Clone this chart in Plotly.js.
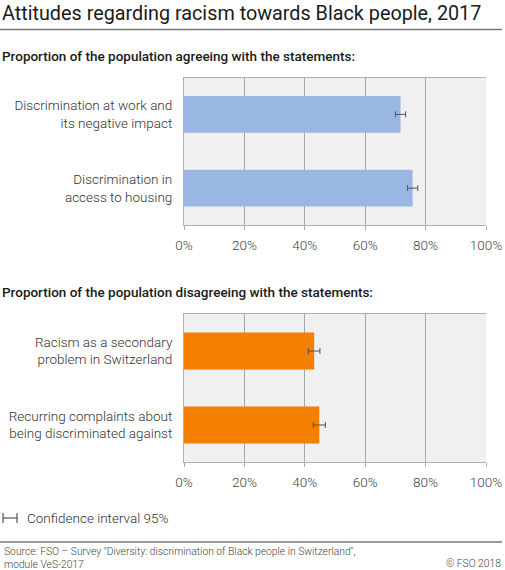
<!DOCTYPE html>
<html>
<head>
<meta charset="utf-8">
<script src="https://cdn.plot.ly/plotly-3.0.1.min.js"></script>
<style>
  html, body { margin: 0; padding: 0; background: #fff; }
  #chart { width: 505px; height: 570px; }
</style>
</head>
<body>
<div id="chart"></div>
<script>
// values
var agreeCats = ['Discrimination at work and<br>its negative impact', 'Discrimination in<br>access to housing'];
var agreeVals = [71.7, 75.7];
var agreeErr = [1.7, 1.7];

var disagreeCats = ['Racism as a secondary<br>problem in Switzerland', 'Recurring complaints about<br>being discriminated against'];
var disagreeVals = [43.1, 44.8];
var disagreeErr = [1.9, 2.0];

var tickVals = [0, 20, 40, 60, 80, 100];
var tickText = ['0%', '20%', '40%', '60%', '80%', '100%'];

var W = 505, H = 570;
function px(x) { return x / W; }
function py(y) { return 1 - y / H; }

var FONT = 'Roboto, "Noto Sans", sans-serif';

var data = [
  {
    type: 'bar', orientation: 'h',
    y: agreeCats, x: agreeVals,
    xaxis: 'x', yaxis: 'y',
    marker: { color: '#9ab7e4' },
    error_x: { type: 'data', array: agreeErr, color: '#555', thickness: 1, width: 3 },
    width: 0.5, hoverinfo: 'x'
  },
  {
    type: 'bar', orientation: 'h',
    y: disagreeCats, x: disagreeVals,
    xaxis: 'x2', yaxis: 'y2',
    marker: { color: '#f47f00' },
    error_x: { type: 'data', array: disagreeErr, color: '#555', thickness: 1, width: 3 },
    width: 0.5, hoverinfo: 'x'
  }
];

function xAx(anchor) {
  return {
    domain: [px(184), px(486)],
    anchor: anchor,
    range: [0, 100],
    tickvals: tickVals, ticktext: tickText,
    showgrid: true, gridcolor: '#a8a8a8', gridwidth: 1,
    zeroline: false,
    showline: true, linecolor: '#b0b0b0', linewidth: 1, mirror: true,
    ticks: 'outside', ticklen: 4, tickcolor: '#b0b0b0',
    ticklabelstandoff: 4,
    tickfont: { family: FONT, size: 13.5, color: '#444', weight: 300 },
    fixedrange: true
  };
}
function yAx(anchor, dom) {
  return {
    domain: dom,
    anchor: anchor,
    autorange: 'reversed',
    showgrid: false, zeroline: false,
    showline: true, linecolor: '#b0b0b0', linewidth: 1,
    ticks: '',
    ticklabelstandoff: 8,
    tickfont: { family: FONT, size: 13.5, color: '#333', weight: 300 },
    fixedrange: true
  };
}

var layout = {
  width: W, height: H,
  margin: { l: 0, r: 0, t: 0, b: 0 },
  paper_bgcolor: '#fff', plot_bgcolor: '#f0f0f0',
  showlegend: false,
  xaxis: xAx('y'),
  yaxis: yAx('x', [py(225), py(77.5)]),
  xaxis2: xAx('y2'),
  yaxis2: yAx('x2', [py(462), py(314)]),
  shapes: [
    { type: 'line', xref: 'paper', yref: 'paper', x0: 0, x1: px(502), y0: py(29.5), y1: py(29.5), line: { color: '#777', width: 1.5 } },
    // legend symbol for the confidence interval
    { type: 'line', xref: 'paper', yref: 'paper', x0: px(3), x1: px(17), y0: py(518), y1: py(518), line: { color: '#333', width: 1 } },
    { type: 'line', xref: 'paper', yref: 'paper', x0: px(3), x1: px(3), y0: py(513), y1: py(523), line: { color: '#333', width: 1 } },
    { type: 'line', xref: 'paper', yref: 'paper', x0: px(17), x1: px(17), y0: py(513), y1: py(523), line: { color: '#333', width: 1 } },
    { type: 'line', xref: 'paper', yref: 'paper', x0: 0, x1: px(502), y0: py(542), y1: py(542), line: { color: '#333', width: 1 } }
  ],
  annotations: [
    { text: 'Attitudes regarding racism towards Black people, 2017', xref: 'paper', yref: 'paper',
      x: 0, y: py(14), xanchor: 'left', yanchor: 'middle', showarrow: false,
      font: { family: FONT, size: 19.8, color: '#1a1a1a' } },
    { text: 'Proportion of the population agreeing with the statements:', xref: 'paper', yref: 'paper',
      x: 0, y: py(56), xanchor: 'left', yanchor: 'middle', showarrow: false,
      font: { family: FONT, size: 13.5, color: '#1a1a1a', weight: 500 } },
    { text: 'Proportion of the population disagreeing with the statements:', xref: 'paper', yref: 'paper',
      x: 0, y: py(292), xanchor: 'left', yanchor: 'middle', showarrow: false,
      font: { family: FONT, size: 13.5, color: '#1a1a1a', weight: 500 } },
    { text: 'Confidence interval 95%', xref: 'paper', yref: 'paper',
      x: px(25), y: py(518), xanchor: 'left', yanchor: 'middle', showarrow: false,
      font: { family: FONT, size: 13.5, color: '#333', weight: 300 } },
    { text: 'Source: FSO \u2013 Survey "Diversity: discrimination of Black people in Switzerland",<br>module VeS-2017',
      xref: 'paper', yref: 'paper', align: 'left',
      x: px(2), y: py(557.5), xanchor: 'left', yanchor: 'middle', showarrow: false,
      font: { family: FONT, size: 10.3, color: '#444', weight: 300 } },
    { text: '\u00a9 FSO 2018', xref: 'paper', yref: 'paper',
      x: px(503), y: py(563), xanchor: 'right', yanchor: 'middle', showarrow: false,
      font: { family: FONT, size: 10.3, color: '#444', weight: 300 } }
  ]
};

Plotly.newPlot('chart', data, layout, { displayModeBar: false, staticPlot: true });
</script>
</body>
</html>
